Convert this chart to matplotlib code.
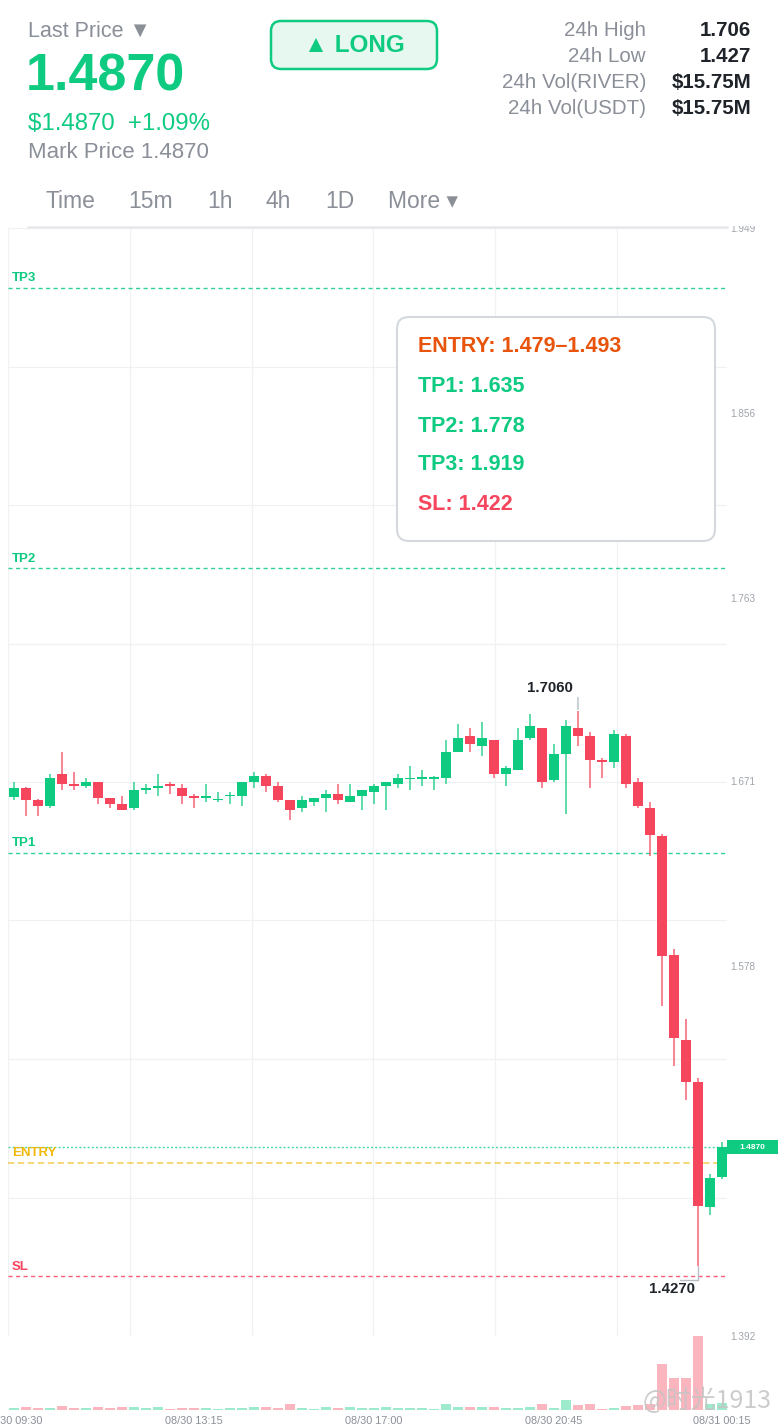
import numpy as np
import matplotlib
matplotlib.use('Agg')
import matplotlib.pyplot as plt
from matplotlib.patches import FancyBboxPatch, Rectangle
from matplotlib.transforms import Affine2D, blended_transform_factory
from matplotlib.lines import Line2D

plt.rcParams['font.family'] = ['Liberation Sans', 'DejaVu Sans']

W, H = 780, 1428

# 15m candles, 08/30 09:30 -> 08/31 00:15
opens = [1.6630, 1.6675, 1.6615, 1.6586, 1.6745, 1.6695, 1.6686, 1.6705, 1.6625, 1.6595,
         1.6576, 1.6666, 1.6676, 1.6695, 1.6675, 1.6635, 1.6626, 1.6615, 1.6633, 1.6636,
         1.6706, 1.6735, 1.6685, 1.6615, 1.6576, 1.6606, 1.6626, 1.6645, 1.6606, 1.6636,
         1.6656, 1.6686, 1.6696, 1.6720, 1.6722, 1.6722, 1.6727, 1.6857, 1.6936, 1.6887,
         1.6916, 1.6747, 1.6767, 1.6928, 1.6976, 1.6716, 1.6847, 1.6976, 1.6936, 1.6817,
         1.6807, 1.6936, 1.6705, 1.6574, 1.6435, 1.5836, 1.5407, 1.5196, 1.4566, 1.4717]
highs = [1.6705, 1.6680, 1.6618, 1.6745, 1.6856, 1.6754, 1.6725, 1.6705, 1.6625, 1.6635,
         1.6705, 1.6695, 1.6745, 1.6705, 1.6695, 1.6646, 1.6695, 1.6655, 1.6655, 1.6705,
         1.6755, 1.6745, 1.6705, 1.6615, 1.6635, 1.6625, 1.6665, 1.6695, 1.6695, 1.6665,
         1.6695, 1.6705, 1.6745, 1.6785, 1.6765, 1.6735, 1.6916, 1.6996, 1.6976, 1.7006,
         1.6916, 1.6785, 1.6976, 1.7047, 1.6976, 1.6896, 1.7016, 1.7060, 1.6956, 1.6827,
         1.6966, 1.6946, 1.6727, 1.6604, 1.6445, 1.5866, 1.5514, 1.5216, 1.4734, 1.4894]
lows = [1.6615, 1.6536, 1.6536, 1.6576, 1.6666, 1.6666, 1.6676, 1.6596, 1.6576, 1.6566,
        1.6566, 1.6646, 1.6636, 1.6646, 1.6596, 1.6576, 1.6606, 1.6606, 1.6596, 1.6586,
        1.6676, 1.6656, 1.6606, 1.6516, 1.6556, 1.6586, 1.6556, 1.6596, 1.6606, 1.6566,
        1.6596, 1.6566, 1.6676, 1.6666, 1.6686, 1.6666, 1.6696, 1.6857, 1.6857, 1.6837,
        1.6727, 1.6686, 1.6767, 1.6918, 1.6676, 1.6706, 1.6546, 1.6887, 1.6676, 1.6727,
        1.6777, 1.6676, 1.6576, 1.6335, 1.5578, 1.5276, 1.5105, 1.4270, 1.4526, 1.4707]
closes = [1.6675, 1.6616, 1.6586, 1.6725, 1.6696, 1.6686, 1.6705, 1.6626, 1.6596, 1.6566,
          1.6665, 1.6675, 1.6685, 1.6686, 1.6636, 1.6626, 1.6635, 1.6620, 1.6638, 1.6705,
          1.6735, 1.6686, 1.6616, 1.6566, 1.6615, 1.6625, 1.6645, 1.6616, 1.6635, 1.6665,
          1.6685, 1.6705, 1.6725, 1.6725, 1.6725, 1.6725, 1.6856, 1.6926, 1.6897, 1.6926,
          1.6747, 1.6775, 1.6916, 1.6986, 1.6706, 1.6846, 1.6986, 1.6938, 1.6817, 1.6807,
          1.6946, 1.6696, 1.6586, 1.6437, 1.5829, 1.5417, 1.5196, 1.4576, 1.4715, 1.4870]
volumes = [17, 30, 20, 23, 40, 17, 17, 27, 23, 27,
           30, 17, 27, 13, 20, 23, 17, 10, 20, 20,
           27, 30, 20, 57, 20, 13, 33, 23, 33, 20,
           20, 27, 23, 17, 17, 10, 57, 30, 27, 33,
           33, 23, 23, 30, 60, 23, 100, 50, 57, 7,
           23, 40, 47, 60, 460, 320, 320, 740, 60, 67]

time_idx = [0, 15, 30, 45, 59]
time_labels = ['08/30 09:30', '08/30 13:15', '08/30 17:00', '08/30 20:45', '08/31 00:15']
price_ticks = [1.392, 1.578, 1.671, 1.763, 1.856, 1.949]

level_names = ['TP3', 'TP2', 'TP1', 'ENTRY', 'SL']
level_values = [1.919, 1.778, 1.635, 1.479, 1.422]
entry_high = 1.493
last_price = 1.487

stat_names = ['24h High', '24h Low', '24h Vol(RIVER)', '24h Vol(USDT)']
stat_values = ['1.706', '1.427', '$15.75M', '$15.75M']
tabs = ['Time', '15m', '1h', '4h', '1D', 'More ▾']

GREEN = '#0ecb81'
RED = '#f6465d'
YELLOW = '#f0b90b'
GREY = '#8a8f98'
DARK = '#1e2329'

fig = plt.figure(figsize=(W / 100, H / 100), dpi=100)
px = Affine2D().scale(1 / W, -1 / H).translate(0, 1) + fig.transFigure

ax = fig.add_axes([8 / W, 1 - 1336 / H, 719 / W, 1108 / H])
vax = fig.add_axes([8 / W, 1 - 1410 / H, 719 / W, 74 / H])

o = np.array(opens); h = np.array(highs); l = np.array(lows); c = np.array(closes)
x = np.arange(len(o))
up = c >= o
cols = np.where(up, GREEN, RED)

ymin, ymax = 1.392, 1.949
ax.set_xlim(-0.5, 59.42)
ax.set_ylim(ymin, ymax)

# grid
for gy in np.linspace(ymin, ymax, 9):
    ax.axhline(gy, color='#f0f1f3', lw=0.9, zorder=0)
for gx in -0.5 + 10.15 * np.arange(6):
    ax.axvline(gx, color='#f0f1f3', lw=0.9, zorder=0)

# candles
ax.vlines(x, l, h, colors=cols, lw=1.1, alpha=0.85, zorder=2)
ax.bar(x, np.maximum(np.abs(c - o), 0.0006), bottom=np.minimum(o, c), width=0.82,
       color=cols, zorder=3)

# level lines
level_colors = [GREEN, GREEN, GREEN, YELLOW, RED]
for name, val, col in zip(level_names, level_values, level_colors):
    if name == 'ENTRY':
        ax.axhline(val, color=col, ls=(0, (3.5, 2)), lw=1.3, alpha=0.6, zorder=1)
    else:
        ax.axhline(val, color=col, ls=(0, (3, 2.4)), lw=1.0, alpha=0.85, zorder=1)
    ax.annotate(name, xy=(-0.5, val), xytext=(3, 2.5), textcoords='offset points',
                ha='left', va='bottom', fontsize=9.5, fontweight='bold', color=col)

ax.axhline(last_price, color=GREEN, ls=(0, (1.5, 1.5)), lw=1.0, alpha=0.75, zorder=1)

# price tag
bt = blended_transform_factory(ax.transAxes, ax.transData)
ax.add_patch(Rectangle((1.0, last_price - 0.0035), 51 / 719, 0.007, transform=bt,
                       fc=GREEN, ec='none', clip_on=False, zorder=6))
ax.text(1.0 + 25.5 / 719, last_price, f'{last_price:.4f}', transform=bt, ha='center',
        va='center', fontsize=6, fontweight='bold', color='white', zorder=7, clip_on=False)

# high / low labels
hi = int(np.argmax(h)); lo = int(np.argmin(l))
ax.annotate('', xy=(hi, h[hi]), xytext=(0, 10), textcoords='offset points',
            arrowprops=dict(arrowstyle='-', color='#b7bdc6', lw=1, shrinkA=0, shrinkB=1.5))
ax.annotate(f'{h[hi]:.4f}', xy=(hi, h[hi]), xytext=(-20, 16.5), textcoords='offset points',
            ha='center', va='center', fontsize=10.8, fontweight='bold', color=DARK)
ax.annotate('', xy=(lo, l[lo]), xytext=(-13, -10), textcoords='offset points',
            arrowprops=dict(arrowstyle='-', connectionstyle='angle,angleA=0,angleB=90,rad=0',
                            color='#b7bdc6', lw=1, shrinkA=0, shrinkB=0))
ax.annotate(f'{l[lo]:.4f}', xy=(lo, l[lo]), xytext=(-19, -16), textcoords='offset points',
            ha='center', va='center', fontsize=10.8, fontweight='bold', color=DARK)

ax.yaxis.tick_right()
ax.set_yticks(price_ticks)
ax.set_yticklabels([f'{t:.3f}' for t in price_ticks])
ax.set_xticks([])
ax.tick_params(axis='y', length=0, pad=2, labelsize=7.2, labelcolor='#a0a5ad')
for s in ax.spines.values():
    s.set_visible(False)

# volume
vcols = np.where(up, GREEN, RED)
vax.bar(x, volumes, width=0.82, color=vcols, alpha=0.4)
vax.set_xlim(-0.5, 59.42)
vax.set_ylim(0, max(volumes))
vax.set_yticks([])
vax.set_xticks(time_idx)
vax.set_xticklabels(time_labels)
vax.tick_params(axis='x', length=0, pad=4, labelsize=7.8, labelcolor=GREY)
for s in vax.spines.values():
    s.set_visible(False)

# header cover + separator
fig.add_artist(Rectangle((0, 0), W, 226, transform=px, fc='white', ec='none', zorder=1))
fig.add_artist(Line2D([28, 727], [227, 227], transform=px, color='#e6e8eb', lw=1.8, zorder=2))

fig.text(28, 31, 'Last Price ▼', transform=px, ha='left', va='center', fontsize=15.5,
         color=GREY, zorder=3)
fig.text(26, 77, f'{last_price:.4f}', transform=px, ha='left', va='center', fontsize=37.5,
         fontweight='bold', color=GREEN, zorder=3)
fig.text(28, 124, f'${last_price:.4f}  +1.09%', transform=px, ha='left', va='center',
         fontsize=17.3, color=GREEN, zorder=3)
fig.text(28, 153, f'Mark Price {last_price:.4f}', transform=px, ha='left', va='center',
         fontsize=16, color=GREY, zorder=3)

fig.add_artist(FancyBboxPatch((271, 21), 166, 48, boxstyle='round,pad=0,rounding_size=10',
                              transform=px, fc='#e7f8f0', ec=GREEN, lw=1.8, zorder=3))
fig.text(354, 45, '▲ LONG', transform=px, ha='center', va='center', fontsize=17.5,
         fontweight='bold', color=GREEN, zorder=4)

for i, (n, v) in enumerate(zip(stat_names, stat_values)):
    yy = 31 + 26 * i
    fig.text(646, yy, n, transform=px, ha='right', va='center', fontsize=14.8,
             color=GREY, zorder=3)
    fig.text(751, yy, v, transform=px, ha='right', va='center', fontsize=14.8,
             fontweight='bold', color=DARK, zorder=3)

for t, tx in zip(tabs, [45, 128, 207, 266, 325, 388]):
    fig.text(tx, 202, t, transform=px, ha='left', va='center', fontsize=16.5,
             color=GREY, zorder=3)

# info box
fig.add_artist(FancyBboxPatch((397, 317), 318, 224, boxstyle='round,pad=0,rounding_size=12',
                              transform=px, fc='white', ec='#d5d8dc', lw=1.5, zorder=5))
box_lines = [(f'ENTRY: {level_values[3]:.3f}–{entry_high:.3f}', '#e8540c'),
             (f'TP1: {level_values[2]:.3f}', GREEN),
             (f'TP2: {level_values[1]:.3f}', GREEN),
             (f'TP3: {level_values[0]:.3f}', GREEN),
             (f'SL: {level_values[4]:.3f}', RED)]
for (txt, col), yy in zip(box_lines, [347, 387, 426, 464, 504]):
    fig.text(418, yy, txt, transform=px, ha='left', va='center', fontsize=15.5,
             fontweight='bold', color=col, zorder=6)

# watermark
fig.text(707, 1401, '@时光1913', transform=px, ha='center', va='center', fontsize=18,
         color='#c4c4c4', alpha=0.85, family=['Noto Sans CJK SC', 'DejaVu Sans'], zorder=10)

fig.savefig('out.png', dpi=100, facecolor='white')
